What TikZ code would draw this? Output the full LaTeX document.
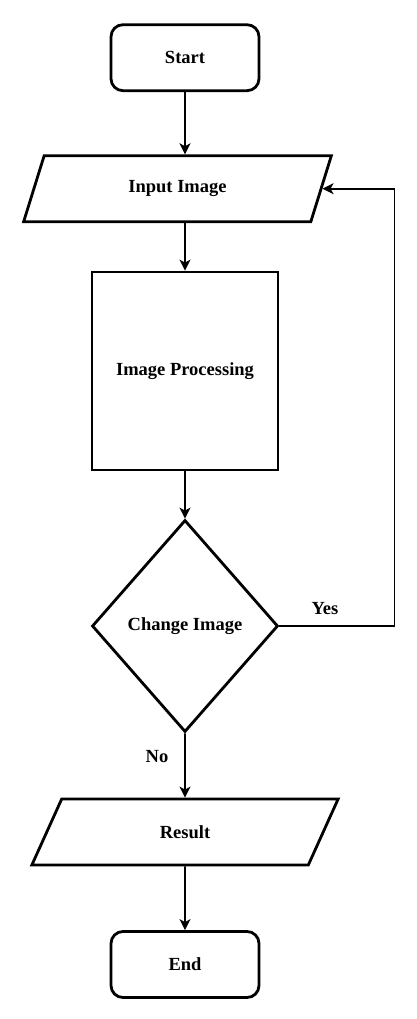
\documentclass[tikz,border=0pt]{standalone}
\usepackage{fontspec}
\setmainfont{Liberation Serif}
\usepackage{tikz}
\usetikzlibrary{shapes.geometric,arrows.meta}

\tikzset{
  term/.style={draw, line width=2.8pt, rounded corners=12pt, minimum width=148pt, minimum height=66pt},
  io/.style={draw, line width=2.8pt, trapezium, trapezium left angle=65, trapezium right angle=115,
    trapezium stretches=true, minimum width=308pt, minimum height=66pt, inner sep=0pt},
  proc/.style={draw, line width=2.8pt, minimum width=186pt, minimum height=198pt},
  decide/.style={draw, line width=2.8pt, diamond, inner sep=0pt, minimum width=186pt, minimum height=212pt},
  arr/.style={line width=1.7pt, -{Stealth[length=11pt,width=11pt,inset=3pt]}}
}

\begin{document}
\begin{tikzpicture}[x=1pt, y=-1pt, font=\fontsize{18.5}{22}\selectfont\bfseries]
\useasboundingbox (0,0) rectangle (417,1019);

\node[term] (start) at (185,57.7) {Start};
\node[io] (input) at (177.5,188.7) {Input Image};
\node[proc] (proc) at (185,371) {Image Processing};
\node[decide] (change) at (185,626) {Change Image};
\node[io] (result) at (185,832) {Result};
\node[term] (end) at (185,964.5) {End};

\draw[arr] (start.south) -- (start.south |- input.north);
\draw[arr] (proc.north |- input.south) -- (proc.north);
\draw[arr] (proc.south) -- (change.north);
\draw[arr] (change.south) -- (result.north);
\draw[arr] (result.south) -- (end.north);
% loop back when the image changes
\draw[arr] (change.east) -- ++(115,0) |- (input.east);

\node (yes) at (325,609) {Yes};
\node (no) at (157,757) {No};
\end{tikzpicture}
\end{document}
